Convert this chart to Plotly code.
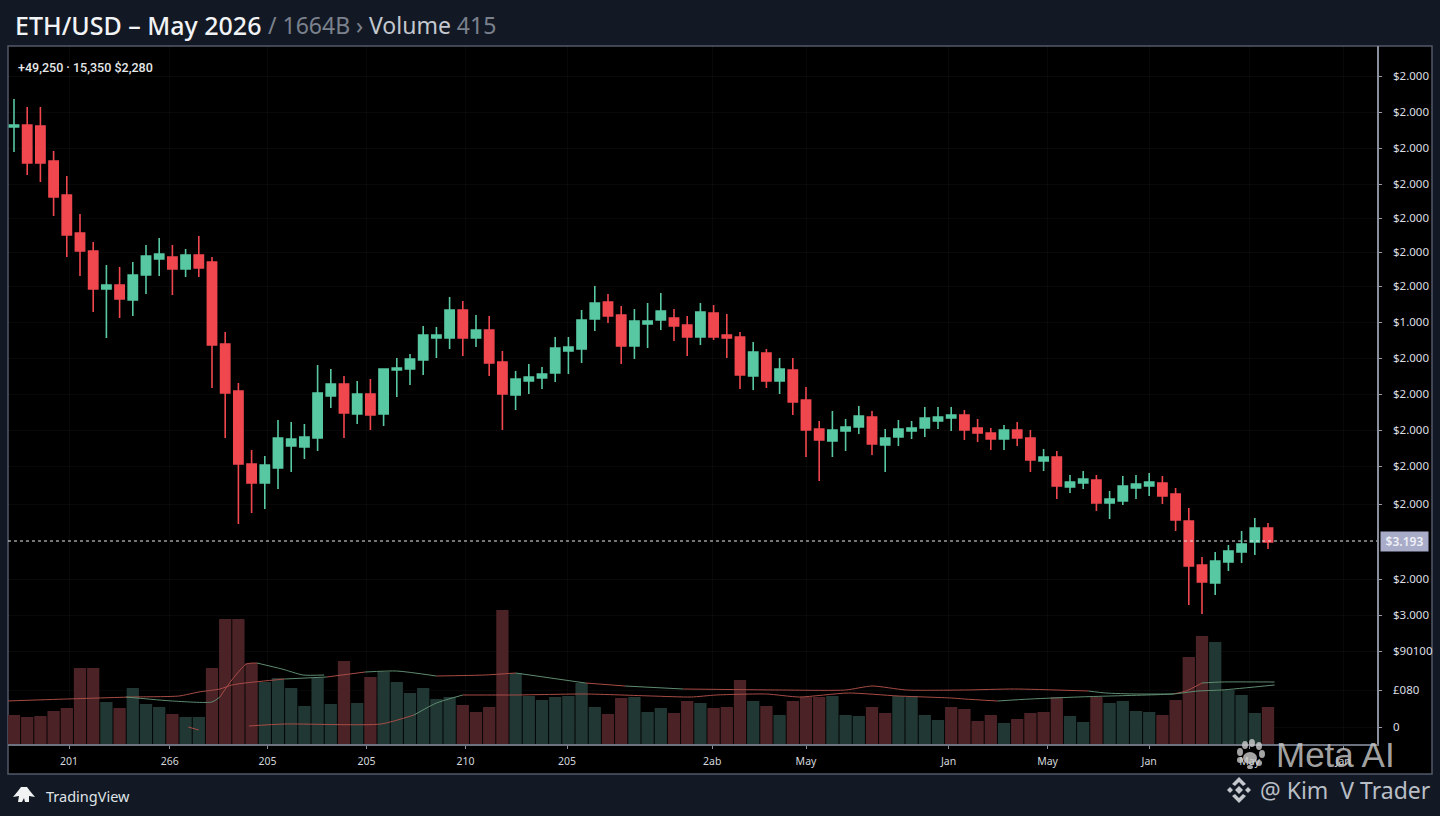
import plotly.graph_objects as go

W, H = 1440, 816

# ---- data ----
opens = [2873,2875,2874,2839,2805,2767,2749,2711,2715,2700,2725,2741,2743,2731,2745,2738,2656,2609,2536,2517,
         2532,2554,2553,2562,2604,2616,2586,2606,2586,2630,2631,2640,2662,2662,2690,2662,2670,2638,2605,2619,
         2622,2627,2649,2651,2681,2698,2685,2654,2676,2680,2682,2675,2663,2687,2665,2663,2624,2647,2619,2630,
         2600,2571,2559,2569,2573,2583,2555,2563,2569,2572,2579,2582,2585,2572,2567,2561,2570,2562,2539,2543,
         2513,2517,2520,2497,2499,2512,2514,2517,2506,2479,2435,2417,2438,2448,2458,2472]
highs = [2901,2893,2893,2849,2824,2786,2758,2735,2733,2738,2755,2762,2755,2751,2764,2743,2668,2617,2550,2544,
         2580,2578,2576,2635,2631,2624,2619,2621,2631,2642,2646,2674,2673,2703,2699,2685,2684,2649,2629,2636,
         2633,2663,2663,2690,2714,2706,2694,2691,2697,2707,2691,2684,2697,2695,2686,2668,2658,2651,2642,2642,
         2613,2579,2589,2581,2594,2589,2571,2580,2579,2593,2593,2593,2590,2581,2572,2575,2578,2570,2551,2549,
         2525,2529,2525,2509,2524,2525,2527,2524,2512,2492,2443,2448,2455,2469,2482,2477]
lows = [2848,2825,2818,2784,2743,2724,2688,2662,2682,2684,2706,2724,2705,2723,2723,2612,2562,2476,2487,2491,
        2511,2528,2541,2549,2592,2562,2576,2570,2574,2603,2615,2625,2642,2651,2644,2653,2624,2570,2590,2606,
        2611,2618,2626,2637,2669,2677,2636,2641,2652,2670,2659,2644,2655,2660,2642,2611,2610,2612,2606,2585,
        2543,2519,2543,2549,2566,2545,2528,2554,2561,2563,2571,2569,2560,2558,2550,2550,2554,2528,2529,2501,
        2507,2511,2489,2481,2495,2501,2504,2496,2469,2395,2386,2405,2429,2437,2445,2451]
closes = [2875,2837,2837,2803,2765,2749,2711,2715,2701,2725,2744,2746,2731,2745,2732,2655,2607,2536,2517,2535,
          2562,2561,2563,2607,2616,2587,2606,2585,2631,2632,2641,2665,2665,2690,2662,2670,2637,2606,2621,2623,
          2626,2652,2653,2680,2697,2684,2654,2679,2679,2689,2674,2663,2688,2663,2662,2625,2648,2619,2631,2598,
          2570,2560,2570,2573,2584,2556,2562,2571,2572,2582,2583,2585,2570,2567,2561,2570,2562,2540,2543,2514,
          2518,2521,2497,2501,2514,2516,2518,2504,2480,2434,2418,2439,2449,2456,2472,2458]
volumes = [29,27,28,33,36,76,76,42,36,56,40,37,30,27,27,76,125,125,81,62,
           66,56,38,66,40,83,41,67,72,62,51,56,45,47,39,32,37,134,71,48,
           44,47,48,61,37,30,46,47,32,36,31,43,41,36,37,64,43,38,29,43,
           47,47,48,29,28,37,31,48,48,29,24,37,35,23,29,21,25,31,32,47,
           28,22,47,41,43,33,32,29,44,87,108,102,54,49,31,37]
volume_side = [-1,-1,-1,-1,-1,-1,-1,1,-1,1,1,1,-1,1,1,-1,-1,-1,-1,1,
               1,1,1,1,1,-1,1,-1,1,1,1,1,1,1,-1,-1,-1,-1,1,1,
               1,1,1,1,1,-1,-1,1,1,1,-1,-1,1,-1,-1,-1,1,-1,1,-1,
               -1,-1,1,1,1,-1,-1,1,1,1,1,-1,-1,-1,-1,1,-1,-1,-1,-1,
               1,1,-1,1,1,1,1,-1,-1,-1,-1,1,1,1,1,-1]
sessions = list(range(len(opens)))

ma_slow_bar = [-0.6,4,9,12.5,14,15.6,16.5,17.5,20.5,23.7,26.6,29,32,35.7,38,43.3,46.3,50.7,58,63,65,67.6,72,75.8,81.4,82.7,85,87.8,88.8,90,91.5,95.5]
ma_slow_val = [43,45,47,48,52,55,59,61,65,67,72,73,68,69,71,61,58,55,54,54,58,54,54,55,53,51,50,50,53,61,62,62]
ma_fast_bar = [8.5,12,15,15.6,16.5,17.6,18.4,20.3,21.9,23.5]
ma_fast_val = [47,43,42,47,64,80,81,75,69,69]
ma_long_bar = [17.8,20.5,27.8,30.3,32,34,35.7,38,43.3,48.3,51.3,53.2,57,59.5,63.2,67,71,72,74.5,77,80.6,83,87.8,89.7,91.5,95.5]
ma_long_val = [18,20,20,29,41,49,49,49,50,48,47,49,50,47,51,48,46,45,43,45,47,48,50,53,54,59]
ma_short_bar = [13.2,14.0]
ma_short_val = [17,14]

price_ticks = [2924,2888,2852,2816,2782,2748,2714,2678,2642,2606,2570,2534,2496,2421,2385,2349,2310,2273]
price_labels = ["$2.000","$2.000","$2.000","$2.000","$2.000","$2.000","$2.000","$1.000","$2.000","$2.000",
                "$2.000","$2.000","$2.000","$2.000","$3.000","$90100","£080","0"]
last_price = 2459
last_price_label = "$3.193"
time_ticks = [4.17,11.8,19.2,26.7,34.2,41.9,52.9,60,70.8,78.3,86,93.6,100.7]
time_labels = ["201","266","205","205","210","205","2ab","May","Jan","May","Jan","May","Jan"]

# ---- colours ----
UP, DOWN = "#57c8a2", "#f0474f"
VOL_UP, VOL_DOWN = "#203733", "#4b2327"
MA_RED, MA_GREEN = "#a84c46", "#5f8c70"
PAPER = "#131924"
FRAME = "#525868"

def px(x): return x / W
def py(y): return 1 - y / H

fig = go.Figure()
fig.add_trace(go.Bar(x=sessions, y=volumes, yaxis="y2", width=0.93,
                     marker=dict(color=[VOL_UP if s > 0 else VOL_DOWN for s in volume_side], line_width=0),
                     hoverinfo="skip", showlegend=False))

def ma_segments(xs, ys, segments):
    for a, b, color in segments:
        fig.add_trace(go.Scatter(x=xs[a:b + 1], y=ys[a:b + 1], yaxis="y2", mode="lines",
                                 line=dict(color=color, width=1, shape="spline", smoothing=0.6),
                                 hoverinfo="skip", showlegend=False))

ma_segments(ma_slow_bar, ma_slow_val, [(0, 8, MA_RED), (8, 9, MA_GREEN), (9, 10, MA_RED), (10, 12, MA_GREEN),
                                       (12, 14, MA_RED), (14, 15, MA_GREEN), (15, 16, MA_RED), (16, 17, MA_GREEN),
                                       (17, 24, MA_RED), (24, 27, MA_GREEN), (27, 29, MA_RED), (29, 31, MA_GREEN)])
ma_segments(ma_fast_bar, ma_fast_val, [(0, 3, MA_GREEN), (3, 6, MA_RED), (6, 9, MA_GREEN)])
ma_segments(ma_long_bar, ma_long_val, [(0, 3, MA_RED), (3, 5, MA_GREEN), (5, 18, MA_RED), (18, 25, MA_GREEN)])
ma_segments(ma_short_bar, ma_short_val, [(0, 1, MA_RED)])

fig.add_trace(go.Candlestick(x=sessions, open=opens, high=highs, low=lows, close=closes,
                             increasing=dict(line=dict(color=UP, width=1.6), fillcolor=UP),
                             decreasing=dict(line=dict(color=DOWN, width=1.6), fillcolor=DOWN),
                             whiskerwidth=0, showlegend=False, hoverinfo="skip"))

x0 = (8 - 14) / 13.2
x1 = (1377 - 14) / 13.2

shapes = [
    dict(type="rect", xref="paper", yref="paper", x0=px(8), x1=px(1432), y0=py(774), y1=py(46),
         fillcolor="#000000", line=dict(color=FRAME, width=1.5), layer="below"),
    dict(type="line", xref="paper", yref="y", x0=px(8), x1=px(1377), y0=last_price, y1=last_price,
         line=dict(color="#e8e8e8", width=1.2, dash="dot"), layer="above"),
]

# small brand marks
def poly(points, color):
    d = "M" + " L".join(f"{px(a):.5f},{py(b):.5f}" for a, b in points) + " Z"
    return dict(type="path", xref="paper", yref="paper", path=d, fillcolor=color, line_width=0, layer="above")

def dot(cx, cy, rx, ry, color):
    return dict(type="circle", xref="paper", yref="paper", x0=px(cx - rx), x1=px(cx + rx),
                y0=py(cy + ry), y1=py(cy - ry), fillcolor=color, line_width=0, layer="above")

# TradingView mark
shapes += [poly([(13,797),(18,791),(21,787),(27,787),(30,791),(35,797),(29,796),(29,802),(25,802),(24,798),(22,802),(18,802),(19,796)], "#f0f2f4")]
# Meta AI paw
paw = "rgba(205,205,205,0.8)"
shapes += [dot(1250,758,7,6,paw), dot(1240,752,3,4,paw), dot(1245,745,3,4,paw), dot(1252,743,3,4,paw),
           dot(1259,746,3,4,paw), dot(1262,754,3,4,paw), dot(1240,760,3,3,paw), dot(1259,763,3,3,paw), dot(1250,767,3,2,paw)]
# Binance-like mark
mark = "#c4c8cd"
def diamond(cx, cy, r): return poly([(cx-r,cy),(cx,cy-r),(cx+r,cy),(cx,cy+r)], mark)
shapes += [diamond(1239,790,4), diamond(1230,790,3), diamond(1248,790,3),
           poly([(1239,777),(1246,784),(1243,786),(1239,782),(1235,786),(1232,784)], mark),
           poly([(1239,803),(1246,796),(1243,794),(1239,798),(1235,794),(1232,796)], mark)]

def note(x, y, text, size, color, family="Noto Sans", **kw):
    return dict(xref="paper", yref="paper", x=px(x), y=py(y), text=text, showarrow=False,
                xanchor="left", yanchor="middle",
                font=dict(size=size, color=color, family=family, **kw), align="left")

annotations = [
    note(13, 25, "ETH/USD – May 2026", 25, "#f2f3f5", weight=500),
    note(266, 25, "/ 1664B ›", 23, "#7b818d"),
    note(367, 25, '<span style="color:#c4c8cf">Volume</span> 415', 23, "#7b818d"),
    note(16, 67, "+49,250 · 15,350 $2,280", 12.5, "#e6e8ea", family="Roboto", weight=500),
    note(44, 796, "TradingView", 14.5, "#dfe3e8"),
    note(1274, 754, "Meta AI", 35, "rgba(205,205,205,0.8)", family="Liberation Sans"),
    note(1258, 790, "@ Kim  V Trader", 23, "#b9bec6"),
    dict(xref="paper", yref="y", x=px(1380), y=last_price, text=last_price_label, showarrow=False,
         xanchor="left", yanchor="middle", font=dict(size=12, color="#eef0f6", family="Noto Sans", weight=600),
         bgcolor="#a9acc9", width=44, height=16, borderpad=1.5),
]

fig.update_layout(
    width=W, height=H, autosize=False,
    margin=dict(l=0, r=0, t=0, b=0),
    paper_bgcolor=PAPER, plot_bgcolor="#000000",
    barmode="overlay", boxgap=0.3, boxgroupgap=0, showlegend=False,
    font=dict(family="Noto Sans", color="#cfd2d8"),
    shapes=shapes, annotations=annotations,
    xaxis=dict(type="linear", domain=[px(8), px(1377)], range=[x0, x1], rangeslider=dict(visible=False),
               tickmode="array", tickvals=time_ticks, ticktext=time_labels, ticks="outside", ticklen=3,
               tickcolor="#8a8f9c", tickfont=dict(size=10.5, color="#d4d7dc", family="Noto Sans"),
               showgrid=True, gridcolor="rgba(255,255,255,0.03)", gridwidth=1,
               showline=True, linecolor="#6d7280", linewidth=1.5, zeroline=False, ticklabelstandoff=4, anchor="y"),
    yaxis=dict(domain=[py(744), py(46)], range=[3000 - 744, 3000 - 46], side="right", anchor="x",
               tickmode="array", tickvals=price_ticks, ticktext=price_labels, ticks="outside", ticklen=3,
               tickcolor="#9a9fab", tickfont=dict(size=11.5, color="#dcdfe4", family="Noto Sans"),
               showgrid=True, gridcolor="rgba(255,255,255,0.03)", gridwidth=1,
               showline=True, linecolor="#8a8f9c", linewidth=1.5, zeroline=False, ticklabelstandoff=9),
    yaxis2=dict(domain=[py(744), py(46)], overlaying="y", range=[0, 698], visible=False, anchor="x"),
)

fig.write_html("out.html", config=dict(displayModeBar=False),
               post_script="document.body.style.margin='0';document.body.style.overflow='hidden';")
